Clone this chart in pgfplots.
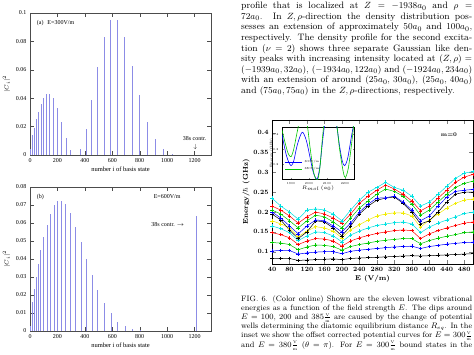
\documentclass[border=0pt]{standalone}
\usepackage{fontspec}
\usepackage{pgfplots}
\pgfplotsset{compat=1.18}
\usepackage{pgfplotstable}
\newfontfamily\tms{Liberation Serif}
\definecolor{barblue}{RGB}{140,140,230}
\definecolor{mgreen}{RGB}{0,200,0}
\definecolor{mcyan}{RGB}{0,225,225}
\definecolor{myellow}{RGB}{240,235,0}

\pgfplotstableread{
x c1 c2 c3 c4 c5 c6 c7 c8 c9 c10 c11
40 0.083 0.102 0.123 0.148 0.165 0.178 0.195 0.200 0.205 0.215 0.235
60 0.083 0.103 0.122 0.143 0.158 0.170 0.180 0.185 0.195 0.205 0.215
80 0.083 0.103 0.118 0.135 0.148 0.160 0.155 0.165 0.178 0.190 0.200
100 0.078 0.094 0.105 0.118 0.128 0.138 0.133 0.145 0.160 0.172 0.182
120 0.079 0.097 0.112 0.127 0.140 0.152 0.150 0.165 0.178 0.188 0.205
140 0.080 0.099 0.117 0.133 0.150 0.163 0.178 0.180 0.192 0.200 0.208
160 0.081 0.100 0.116 0.132 0.148 0.160 0.175 0.178 0.188 0.195 0.205
180 0.082 0.100 0.113 0.127 0.140 0.152 0.160 0.165 0.175 0.185 0.195
200 0.080 0.095 0.104 0.114 0.125 0.135 0.140 0.150 0.160 0.172 0.178
220 0.083 0.101 0.113 0.127 0.142 0.155 0.165 0.172 0.185 0.195 0.205
240 0.084 0.104 0.118 0.135 0.152 0.168 0.195 0.200 0.210 0.222 0.230
260 0.085 0.106 0.122 0.141 0.160 0.180 0.215 0.220 0.228 0.240 0.250
280 0.086 0.108 0.126 0.146 0.166 0.190 0.230 0.235 0.245 0.255 0.262
300 0.087 0.110 0.129 0.150 0.170 0.195 0.235 0.236 0.258 0.268 0.275
320 0.088 0.112 0.131 0.153 0.173 0.198 0.238 0.240 0.252 0.258 0.262
340 0.089 0.113 0.133 0.155 0.175 0.198 0.222 0.225 0.240 0.245 0.255
360 0.090 0.114 0.133 0.153 0.170 0.190 0.200 0.205 0.220 0.228 0.240
380 0.089 0.108 0.120 0.133 0.148 0.162 0.170 0.178 0.192 0.203 0.215
400 0.090 0.113 0.128 0.145 0.162 0.180 0.178 0.190 0.205 0.215 0.225
420 0.091 0.116 0.134 0.153 0.172 0.195 0.200 0.215 0.225 0.235 0.245
440 0.092 0.119 0.139 0.160 0.180 0.210 0.225 0.238 0.245 0.255 0.265
460 0.093 0.121 0.143 0.166 0.188 0.222 0.245 0.252 0.262 0.275 0.285
480 0.094 0.123 0.148 0.172 0.196 0.230 0.250 0.255 0.272 0.288 0.298
500 0.095 0.124 0.150 0.175 0.200 0.233 0.250 0.257 0.278 0.295 0.302
}\curves

\tikzset{ann/.style={font=\tms\fontsize{6}{7}\selectfont}}
\pgfplotsset{
  panel/.style={
    scale only axis, anchor=south west, width=181pt,
    xmin=0, xmax=1320, ymin=0,
    xtick={0,200,400,600,800,1000,1200},
    tick label style={font=\tms\fontsize{6}{7}\selectfont},
    label style={font=\tms\fontsize{6.5}{7}\selectfont},
    /pgf/number format/assume math mode=true,
    scaled ticks=false,
    xticklabel style={/pgf/number format/.cd, set thousands separator={}},
    yticklabel style={/pgf/number format/.cd, fixed, precision=2},
    xlabel={number i of basis state},
    ylabel={$|C_i|^2$},
    xlabel style={yshift=3pt},
    ylabel style={yshift=-1pt},
    axis line style={black!70},
    tick style={black!70},
  },
  bars/.style={ycomb, no marks, barblue, line width=0.8pt},
}
\newcommand{\jline}[1]{\makebox[231pt][s]{#1}}
\newcommand{\vm}{\frac{\scriptscriptstyle\mathrm{V}}{\scriptscriptstyle\mathrm{m}}}

\begin{document}
\begin{tikzpicture}
\useasboundingbox (0pt,0pt) rectangle (474pt,354pt);
\fill[white] (0pt,0pt) rectangle (474pt,354pt);

% ---------- panel (a)
\begin{axis}[panel, at={(30pt,199pt)}, height=142pt, ymax=0.1,
  ytick={0,0.02,0.04,0.06,0.08,0.1}]
\addplot[bars] coordinates {
(5,0.004) (18,0.014) (32,0.019) (47,0.025) (63,0.030) (80,0.036)
(100,0.040) (120,0.043) (145,0.043) (172,0.040) (200,0.033) (230,0.023)
(263,0.012) (298,0.0035) (367,0.004) (409,0.018) (450,0.039) (494,0.062)
(540,0.083) (586,0.095) (637,0.095) (691,0.083) (747,0.063) (800,0.042)
(859,0.023) (917,0.011) (976,0.004) (1036,0.001)};
\node[ann] at (axis cs:75,0.093) {(a)};
\node[ann] at (axis cs:225,0.093) {E=300V/m};
\node[ann] at (axis cs:1200,0.0115) {38s contr.};
\node[font=\fontsize{6}{7}\selectfont] at (axis cs:1205,0.0055) {$\downarrow$};
\end{axis}

% ---------- panel (b)
\begin{axis}[panel, at={(30pt,23pt)}, height=144pt, ymax=0.08,
  ytick={0,0.01,0.02,0.03,0.04,0.05,0.06,0.07,0.08}]
\addplot[bars] coordinates {
(5,0.003) (17,0.016) (32,0.0234) (49,0.030) (63,0.0373) (78,0.045)
(100,0.052) (124,0.059) (149,0.065) (176,0.070) (202,0.0724) (232,0.0725)
(261,0.0705) (295,0.0657) (334,0.058) (373,0.0497) (412,0.040) (454,0.031)
(495,0.0228) (541,0.0154) (590,0.0098) (641,0.0052) (693,0.0028) (746,0.001)
(805,0.0004) (1212,0.0637)};
\node[ann] at (axis cs:75,0.0745) {(b)};
\node[ann] at (axis cs:1000,0.0745) {E=600V/m};
\node[ann] at (axis cs:1005,0.0594) {38s contr. $\rightarrow$};
\end{axis}

% ---------- right-column text
\node[anchor=north west, inner sep=0pt, align=left,
  font=\fontsize{9.3}{10.6}\selectfont] at (241pt,352pt) {\lineskiplimit=-\maxdimen
\jline{profile that is localized at $Z=-1938a_0$ and $\rho=$}\\
\jline{$72a_0$. In $Z,\rho$-direction the density distribution pos-}\\
\jline{sesses an extension of approximately $50a_0$ and $100a_0$,}\\
\jline{respectively. The density profile for the second excita-}\\
\jline{tion ($\nu=2$) shows three separate Gaussian like den-}\\
\jline{sity peaks with increasing intensity located at $(Z,\rho)=$}\\
\jline{$(-1939a_0,32a_0)$, $(-1934a_0,122a_0)$ and $(-1924a_0,234a_0)$}\\
\jline{with an extension of around $(25a_0,\,30a_0)$, $(25a_0,\,40a_0)$}\\
and $(75a_0,75a_0)$ in the $Z,\rho$-directions, respectively.};

% ---------- FIG. 6 main axis
\begin{axis}[at={(272pt,90pt)}, anchor=south west, scale only axis,
  width=201pt, height=144pt,
  xmin=40, xmax=500, ymin=0.069, ymax=0.432,
  xtick={40,80,120,160,200,240,280,320,360,400,440,480},
  ytick={0.1,0.15,0.2,0.25,0.3,0.35,0.4},
  tick label style={font=\bfseries\fontsize{6.5}{7}\selectfont},
  /pgf/number format/assume math mode=true,
  scaled ticks=false,
  yticklabel style={/pgf/number format/.cd, fixed, precision=2},
  xlabel={\bfseries E (V/m)}, ylabel={\bfseries Energy/$\hbar$ (GHz)},
  label style={font=\fontsize{7}{8}\selectfont},
  xlabel style={yshift=4pt}, ylabel style={yshift=-3pt},
  every axis plot/.append style={mark=+, mark size=1.8pt, line width=0.5pt, mark options={solid}},
]
\addplot[black]   table[x=x,y=c1]{\curves};
\addplot[blue]    table[x=x,y=c2]{\curves};
\addplot[mgreen]  table[x=x,y=c3]{\curves};
\addplot[red]     table[x=x,y=c4]{\curves};
\addplot[mcyan]   table[x=x,y=c5]{\curves};
\addplot[myellow] table[x=x,y=c6]{\curves};
\addplot[black]   table[x=x,y=c7]{\curves};
\addplot[blue]    table[x=x,y=c8]{\curves};
\addplot[mgreen]  table[x=x,y=c9]{\curves};
\addplot[red]     table[x=x,y=c10]{\curves};
\addplot[mcyan]   table[x=x,y=c11]{\curves};
\node[font=\bfseries\fontsize{5.5}{6}\selectfont] at (axis cs:445,0.394) {m=0};
\end{axis}

% ---------- inset
\begin{axis}[at={(282pt,175pt)}, anchor=south west, scale only axis,
  width=72pt, height=52pt,
  xmin=1850, xmax=2250, ymin=0.1, ymax=0.45,
  axis background/.style={fill=white},
  xtick={1900,2000,2100,2200}, ytick={0.2,0.3,0.4},
  tick label style={font=\fontsize{3}{3.5}\selectfont},
  /pgf/number format/assume math mode=true,
  scaled ticks=false,
  xticklabel style={/pgf/number format/.cd, set thousands separator={}},
  yticklabel style={/pgf/number format/.cd, fixed, precision=1},
  xlabel={$R_{mol}\,(a_0)$}, ylabel={Energy (GHz)},
  label style={font=\fontsize{3.5}{4}\selectfont},
  xlabel style={yshift=6pt}, ylabel style={yshift=-7pt},
  major tick length=1.5pt,
  legend style={font=\fontsize{3}{3.5}\selectfont, at={(0.03,0.1)}, anchor=south west, inner sep=0.5pt, row sep=-1pt, draw=none, fill=none},
  legend cell align=left,
]
\addplot[blue, smooth, line width=0.6pt] coordinates {
(1850,0.40) (1870,0.28) (1885,0.22) (1900,0.19) (1915,0.22) (1935,0.33)
(1962,0.415) (1985,0.36) (2005,0.25) (2025,0.14) (2045,0.10) (2060,0.18)
(2075,0.35) (2090,0.48) (2120,0.55) (2150,0.48) (2170,0.32) (2185,0.22)
(2198,0.19) (2215,0.24) (2235,0.38) (2250,0.48)};
\addplot[mgreen, smooth, line width=0.6pt] coordinates {
(1850,0.43) (1870,0.33) (1885,0.27) (1900,0.25) (1915,0.30) (1935,0.42)
(1955,0.52) (1985,0.50) (2005,0.32) (2025,0.15) (2045,0.09) (2060,0.17)
(2075,0.38) (2090,0.52) (2120,0.60) (2150,0.50) (2170,0.30) (2190,0.15)
(2202,0.11) (2218,0.17) (2235,0.32) (2250,0.48)};
\legend{300V/m, 380V/m}
\end{axis}

% ---------- caption
\node[anchor=north west, inner sep=0pt, align=left,
  font=\fontsize{7.8}{9.2}\selectfont] at (241pt,59pt) {\lineskiplimit=-\maxdimen
\jline{FIG.~6. (Color online) Shown are the eleven lowest vibrational}\\
\jline{energies as a function of the field strength $E$. The dips around}\\
\jline{$E=100$, 200 and $385\vm$ are caused by the change of potential}\\
\jline{wells determining the diatomic equilibrium distance $R_{eq}$. In the}\\
\jline{inset we show the offset corrected potential curves for $E=300\vm$}\\
\jline{and $E=380\vm$ $(\theta=\pi)$. For $E=300\vm$ bound states in the}};

\end{tikzpicture}
\end{document}
